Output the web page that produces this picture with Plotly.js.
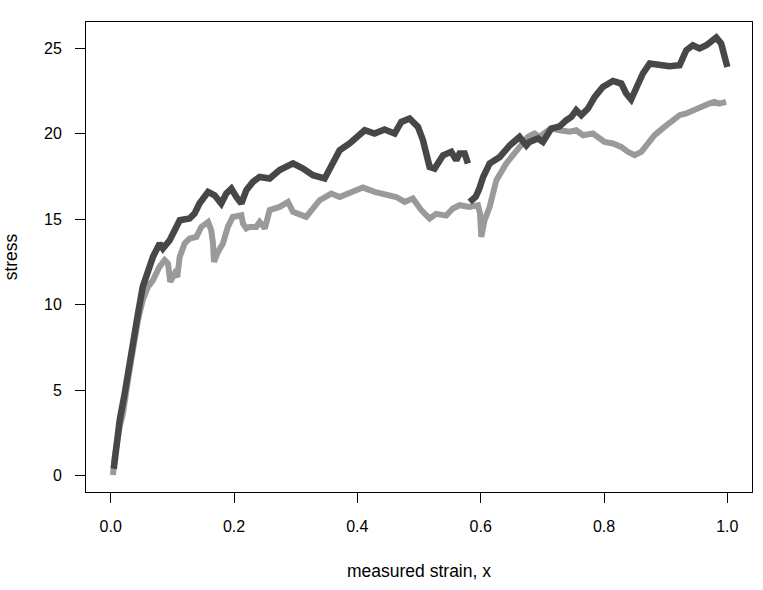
<!DOCTYPE html>
<html>
<head>
<meta charset="utf-8">
<script src="https://cdn.plot.ly/plotly-3.0.1.min.js"></script>
<style>html,body{margin:0;padding:0;background:#fff;}#chart{width:763px;height:590px;}</style>
</head>
<body>
<div id="chart"></div>
<script>
// light grey series (strain, stress)
var lightStrain = [0.0037,0.0065,0.0146,0.020,0.028,0.036,0.0443,0.052,0.0605,0.0686,0.079,0.0876,0.093,0.0966,0.1038,0.108,0.112,0.12,0.128,0.139,0.147,0.158,0.163,0.166,0.1675,0.174,0.182,0.19,0.198,0.212,0.2145,0.22,0.2254,0.236,0.2416,0.25,0.2578,0.274,0.2875,0.2957,0.317,0.3389,0.3577,0.3713,0.3875,0.409,0.428,0.444,0.463,0.4767,0.49,0.5037,0.5172,0.528,0.544,0.555,0.5658,0.582,0.5956,0.599,0.601,0.6064,0.612,0.6146,0.62,0.6255,0.6416,0.658,0.663,0.6766,0.6874,0.6956,0.7064,0.7145,0.728,0.744,0.755,0.766,0.782,0.793,0.801,0.8145,0.828,0.8387,0.8497,0.8605,0.8686,0.882,0.898,0.9117,0.9226,0.9334,0.944,0.9577,0.9706,0.9788,0.987,0.998];
var lightStress = [0.03,1.1,2.85,3.63,5.58,7.53,9.09,10.26,11.03,11.43,12.2,12.6,12.4,11.33,11.82,11.62,12.79,13.57,13.86,13.96,14.54,14.83,14.35,13.57,12.5,13.08,13.57,14.54,15.12,15.22,14.74,14.45,14.54,14.54,14.83,14.45,15.52,15.71,16.0,15.42,15.13,16.1,16.49,16.29,16.49,16.84,16.59,16.49,16.29,16.0,16.2,15.52,15.03,15.3,15.2,15.62,15.81,15.71,15.81,15.32,13.96,14.93,15.4,15.71,16.5,17.27,18.25,19.02,19.22,19.8,20.0,19.8,20.1,20.29,20.19,20.1,20.19,19.9,20.0,19.71,19.51,19.42,19.22,18.93,18.73,18.93,19.32,19.9,20.39,20.78,21.07,21.17,21.36,21.55,21.75,21.85,21.75,21.85];

// dark grey series (strain, stress); null marks the gap in the record
var darkStrain = [0.005,0.0146,0.0227,0.0308,0.036,0.0443,0.052,0.0577,0.0632,0.0686,0.0795,0.0847,0.0957,0.1038,0.112,0.128,0.136,0.144,0.158,0.1686,0.1793,0.1875,0.1957,0.2038,0.212,0.22,0.2307,0.2416,0.2578,0.274,0.2957,0.312,0.328,0.347,0.3577,0.3713,0.3875,0.4037,0.412,0.428,0.444,0.4605,0.4713,0.4848,0.4983,0.5064,0.5118,0.5172,0.5254,0.539,0.5523,0.5604,0.5658,0.574,0.5794,null,0.5821,0.592,0.598,0.604,0.6146,0.62,0.631,0.647,0.658,0.663,0.674,0.679,0.693,0.701,0.7145,0.728,0.739,0.747,0.755,0.7632,0.774,0.785,0.798,0.8145,0.828,0.836,0.844,0.852,0.863,0.874,0.89,0.906,0.9226,0.9334,0.944,0.955,0.966,0.974,0.982,0.990,0.9955,1.0];
var darkStress = [0.4,3.24,4.80,6.75,8.11,9.48,11.03,11.62,12.4,12.79,13.57,13.28,13.76,14.45,14.93,15.03,15.32,15.91,16.59,16.39,15.91,16.49,16.78,16.29,15.91,16.69,17.17,17.46,17.37,17.86,18.25,17.95,17.56,17.37,18.15,19.02,19.42,20.0,20.19,20.0,20.23,20.0,20.68,20.88,20.39,19.61,18.83,18.05,17.95,18.73,18.93,18.44,18.83,18.83,18.25,null,16.0,16.3,16.8,17.46,18.25,18.4,18.63,19.3,19.6,19.8,19.3,19.51,19.71,19.51,20.29,20.42,20.78,20.97,21.36,21.07,21.46,22.14,22.72,23.07,22.92,22.34,21.99,22.63,23.51,24.09,23.99,23.93,23.99,24.87,25.16,24.97,25.16,25.45,25.61,25.26,24.48,23.89];

var xTicks = [0, 0.2, 0.4, 0.6, 0.8, 1.0];
var xTickText = ["0.0", "0.2", "0.4", "0.6", "0.8", "1.0"];
var yTicks = [0, 5, 10, 15, 20, 25];

var font = {family: "Liberation Sans, Arial, Helvetica, sans-serif", color: "#000", size: 16};

var traces = [
  {x: lightStrain, y: lightStress, type: "scatter", mode: "lines",
   line: {color: "#9a9a9a", width: 6}, hoverinfo: "skip"},
  {x: darkStrain, y: darkStress, type: "scatter", mode: "lines", connectgaps: false,
   line: {color: "#474747", width: 6.5}, hoverinfo: "skip"}
];

var layout = {
  width: 763, height: 590,
  margin: {l: 86, r: 11, t: 22, b: 98},
  paper_bgcolor: "#fff", plot_bgcolor: "#fff",
  showlegend: false,
  font: font,
  xaxis: {
    range: [-0.04, 1.04], tickvals: xTicks, ticktext: xTickText,
    ticks: "outside", ticklen: 10, tickwidth: 1, tickcolor: "#000",
    showline: true, mirror: true, linecolor: "#000", linewidth: 1,
    showgrid: false, zeroline: false, ticklabelstandoff: 10,
    tickfont: font,
    title: {text: "measured strain, x", font: {family: font.family, size: 17.5, color: "#000"}, standoff: 30}
  },
  yaxis: {
    range: [-0.96, 26.52], tickvals: yTicks,
    ticks: "outside", ticklen: 10, tickwidth: 1, tickcolor: "#000",
    showline: true, mirror: true, linecolor: "#000", linewidth: 1,
    showgrid: false, zeroline: false, ticklabelstandoff: 10,
    tickfont: font,
    title: {text: "stress", font: {family: font.family, size: 17.5, color: "#000"}, standoff: 21}
  }
};

Plotly.newPlot("chart", traces, layout, {displayModeBar: false, staticPlot: true});
</script>
</body>
</html>
